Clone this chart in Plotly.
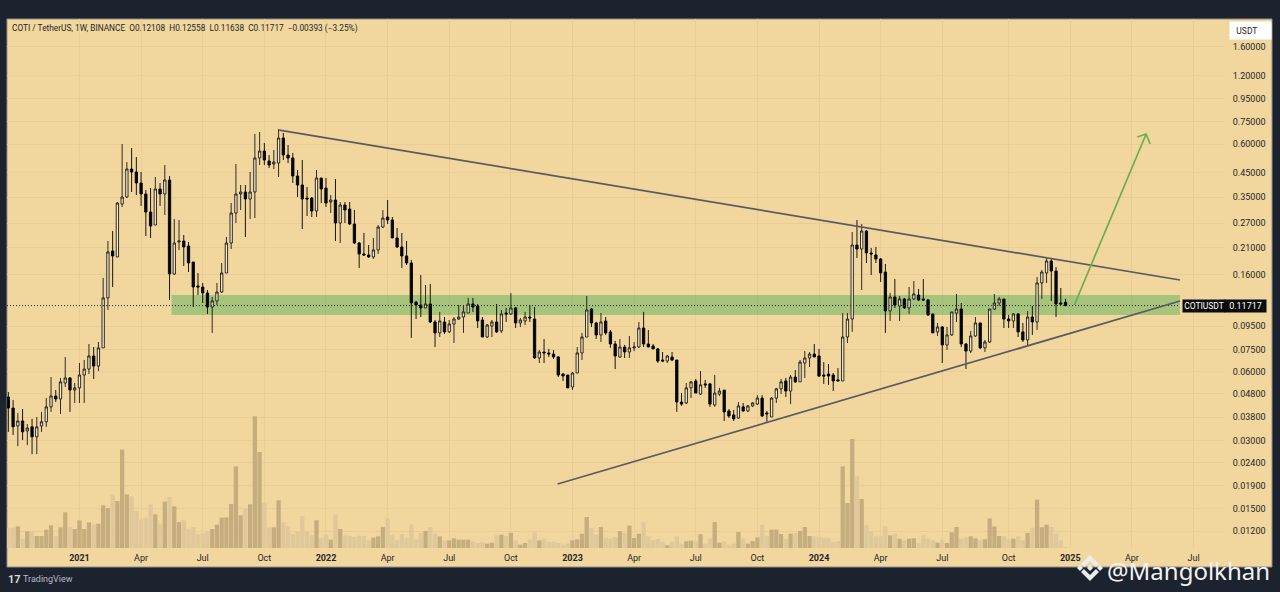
import pandas as pd
import plotly.graph_objects as go

# ── DATA ──────────────────────────────────────────────────────────────────────
opens = [.0465,.0416,.0347,.0365,.0330,.0344,.0311,.0347,.0362,.0421,.0470,.0456,.0536,.0564,.0499,.0510,.0581,.0617,.0704,.0636,
         .0764,.1266,.2035,.1915,.3272,.3512,.4660,.4521,.4045,.3620,.3017,.2646,.3808,.3620,.4170,.1613,.2229,.2251,.2140,.1821,
         .1429,.1414,.1331,.1155,.1228,.1344,.1629,.2206,.2987,.3620,.3694,.3441,.3694,.5209,.5590,.5053,.4902,.4952,.6376,.5369,
         .5209,.4342,.3964,.3476,.3476,.3048,.4255,.3846,.3339,.3407,.2700,.3239,.3111,.2673,.2206,.1975,.1955,.1915,.2056,.2593,
         .2869,.2783,.2321,.2119,.1935,.1802,.1215,.1179,.1144,.1191,.0993,.0889,.0993,.0898,.0973,.1023,.1044,.1087,.1191,.1167,
         .1013,.0853,.0953,.0993,.0907,.1087,.1077,.1144,.0983,.1003,.1044,.1023,.0690,.0733,.0726,.0718,.0697,.0587,.0581,.0515,
         .0593,.0726,.0853,.1132,.0983,.0871,.1003,.0898,.0795,.0697,.0771,.0733,.0764,.0771,.0934,.0795,.0779,.0756,.0676,.0669,
         .0697,.0676,.0442,.0438,.0510,.0547,.0479,.0531,.0531,.0429,.0479,.0499,.0404,.0388,.0376,.0421,.0404,.0425,.0433,.0460,
         .0396,.0380,.0460,.0505,.0547,.0494,.0569,.0542,.0656,.0690,.0718,.0704,.0581,.0587,.0581,.0553,.0547,.0853,.1023,.2162,
         .2076,.2491,.1995,.1955,.1877,.1645,.1110,.1278,.1167,.1253,.1144,.1253,.1304,.1253,.1240,.1077,.0898,.0944,.0787,.0871,
         .1087,.1132,.0795,.0740,.0862,.0983,.0764,.0811,.1132,.1203,.1253,.1023,.1003,.1077,.0898,.0828,.1044,.0993,.1473,.1629,
         .1839,.1662,.1203,.12108]
highs = [.0489,.0451,.0396,.0412,.0354,.0373,.0380,.0400,.0460,.0569,.0499,.0564,.0697,.0569,.0536,.0656,.0676,.0795,.0771,.0811,
         .1549,.2251,.2491,.3339,.6000,.5002,.5763,.5262,.4521,.3769,.3846,.4298,.4045,.4853,.4342,.2812,.2783,.2392,.2229,.1821,
         .1629,.1473,.1372,.1278,.1473,.1802,.2344,.3305,.4902,.3964,.3964,.4521,.6639,.6774,.6061,.5369,.5647,.6982,.6706,.5940,
         .5478,.4613,.5104,.3885,.3512,.4613,.4255,.4255,.3583,.4212,.3339,.3339,.3339,.3079,.2229,.2441,.2162,.2321,.2646,.3079,
         .3407,.2869,.2567,.2441,.2251,.1858,.1228,.1596,.1443,.1458,.1013,.1099,.1044,.1013,.1044,.1179,.1179,.1266,.1266,.1191,
         .1044,.0973,.1013,.1191,.1121,.1144,.1331,.1155,.1034,.1099,.1179,.1155,.0748,.0836,.0756,.0748,.0704,.0593,.0581,.0599,
         .0771,.0889,.1291,.1144,.0993,.1087,.1044,.0916,.0820,.0836,.0787,.0862,.0811,.0993,.1099,.0916,.0795,.0764,.0733,.0711,
         .0733,.0676,.0484,.0536,.0547,.0558,.0605,.0553,.0536,.0581,.0510,.0499,.0412,.0408,.0442,.0438,.0429,.0442,.0474,.0474,
         .0404,.0465,.0510,.0558,.0564,.0581,.0611,.0676,.0740,.0733,.0795,.0756,.0662,.0649,.0593,.0623,.1087,.1087,.2466,.2783,
         .2673,.2516,.2098,.2119,.1896,.1784,.1331,.1533,.1291,.1266,.1414,.1503,.1386,.1533,.1253,.1077,.0983,.0953,.0944,.1099,
         .1318,.1203,.0803,.0907,.1044,.0983,.0828,.1132,.1318,.1278,.1253,.1066,.1087,.1087,.0983,.1110,.1167,.1564,.1679,.1915,
         .1877,.1731,.1400,.12558]
lows = [.0327,.0317,.0283,.0301,.0286,.0261,.0261,.0327,.0344,.0400,.0442,.0392,.0515,.0400,.0438,.0438,.0438,.0587,.0558,.0605,
        .0764,.1121,.1414,.1915,.3174,.3476,.3694,.3583,.3207,.2368,.2321,.2646,.3207,.2927,.1240,.1596,.2056,.1749,.1645,.1155,
        .1304,.1203,.1077,.0889,.1179,.1331,.1629,.2076,.2700,.3079,.2344,.2812,.2840,.4853,.4853,.4708,.4660,.4298,.5104,.4952,
        .4045,.3512,.2541,.2898,.2869,.2869,.3305,.3174,.2987,.2251,.2206,.2700,.2646,.2184,.1714,.1935,.1896,.1877,.1975,.2567,
        .2673,.2321,.2098,.1714,.1766,.0845,.1023,.1044,.1144,.0983,.0771,.0853,.0880,.0889,.0803,.1013,.0889,.1087,.1099,.0934,
        .0853,.0845,.0853,.0889,.0889,.0993,.1066,.0934,.0944,.0963,.0993,.0683,.0656,.0656,.0697,.0683,.0569,.0547,.0510,.0499,
        .0593,.0676,.0853,.0944,.0836,.0811,.0871,.0764,.0617,.0690,.0690,.0690,.0740,.0764,.0771,.0771,.0756,.0656,.0662,.0656,
        .0669,.0400,.0425,.0433,.0460,.0484,.0474,.0510,.0421,.0421,.0470,.0365,.0376,.0365,.0373,.0400,.0400,.0421,.0429,.0380,
        .0362,.0380,.0438,.0479,.0465,.0433,.0536,.0542,.0564,.0630,.0697,.0569,.0531,.0526,.0494,.0547,.0547,.0803,.0898,.1896,
        .1372,.1802,.1596,.1802,.1488,.0889,.1003,.1144,.1003,.1132,.1077,.1240,.1228,.1228,.1055,.0889,.0862,.0656,.0748,.0862,
        .0993,.0771,.0617,.0726,.0853,.0756,.0733,.0803,.1121,.1167,.0934,.0934,.0934,.0853,.0811,.0779,.0871,.0916,.1253,.1473,
        .1228,.1044,.1179,.11638]
closes = [.0416,.0344,.0365,.0327,.0340,.0311,.0344,.0362,.0421,.0470,.0456,.0542,.0564,.0499,.0510,.0581,.0617,.0704,.0636,.0764,
          .1266,.2015,.1935,.3305,.3512,.4660,.4521,.4045,.3620,.3017,.2619,.3808,.3620,.4170,.1613,.2206,.2251,.2119,.1802,.1414,
          .1414,.1331,.1155,.1228,.1344,.1629,.2206,.2987,.3620,.3694,.3441,.3694,.5209,.5590,.5104,.4853,.5002,.6376,.5369,.5209,
          .4342,.3964,.3441,.3441,.3048,.4255,.3808,.3305,.3407,.2700,.3239,.3079,.2673,.2206,.1975,.1955,.1915,.2056,.2593,.2840,
          .2783,.2321,.2119,.1935,.1802,.1203,.1179,.1144,.1191,.0993,.0889,.1003,.0898,.0973,.1023,.1044,.1099,.1191,.1155,.1003,
          .0853,.0963,.0993,.0898,.1077,.1077,.1144,.0983,.1013,.1044,.1034,.0690,.0733,.0726,.0718,.0697,.0581,.0575,.0510,.0593,
          .0726,.0853,.1121,.0983,.0871,.0993,.0889,.0795,.0704,.0771,.0733,.0764,.0771,.0934,.0795,.0771,.0756,.0669,.0669,.0704,
          .0676,.0442,.0433,.0510,.0542,.0484,.0526,.0526,.0433,.0484,.0494,.0400,.0384,.0373,.0425,.0404,.0425,.0438,.0460,.0384,
          .0392,.0460,.0505,.0542,.0494,.0569,.0542,.0662,.0690,.0718,.0697,.0575,.0575,.0575,.0547,.0547,.0853,.1023,.2162,.2076,
          .2491,.1995,.1975,.1877,.1629,.1110,.1278,.1179,.1253,.1144,.1253,.1318,.1240,.1240,.1066,.0889,.0944,.0787,.0871,.1099,
          .1132,.0795,.0740,.0862,.0983,.0764,.0811,.1132,.1203,.1253,.1023,.1003,.1077,.0898,.0828,.1044,.0993,.1473,.1645,.1839,
          .1662,.1191,.1191,.11717]
volumes = [61,61,65,28,50,50,36,36,55,68,35,62,107,62,57,83,57,77,71,73,
           128,120,160,141,295,161,155,111,85,91,131,101,73,139,153,125,78,83,57,63,
           41,45,49,57,70,91,92,132,245,98,118,131,395,288,135,61,62,143,77,65,
           41,51,96,49,38,83,31,40,25,100,57,38,37,33,37,36,23,31,35,63,
           89,38,23,42,31,71,26,45,51,63,43,35,23,23,29,25,25,25,20,15,
           17,13,16,38,40,36,46,23,10,15,25,47,23,28,18,19,15,10,13,23,
           26,43,93,60,40,63,31,28,33,50,45,67,30,43,77,35,23,27,18,8,
           19,35,13,20,22,22,41,13,29,78,16,19,10,13,48,28,13,21,32,70,
           36,55,55,42,28,43,44,51,63,36,35,32,30,31,18,20,245,135,327,215,
           147,68,49,35,35,65,38,43,28,23,28,29,15,38,28,23,16,25,15,47,
           63,29,31,35,29,23,26,89,65,36,35,26,28,35,23,45,61,145,62,70,
           63,43,23,2]

price_ticks = [1.6,1.2,.95,.75,.6,.45,.35,.27,.21,.16,.095,.075,.06,.048,.038,.03,.024,.019,.015,.012]
price_labels = [f"{p:.5f}" for p in price_ticks]
time_ticks = ["2021-01-04","2021-04-05","2021-07-05","2021-10-04","2022-01-03","2022-04-04","2022-07-04","2022-10-03",
              "2023-01-02","2023-04-03","2023-07-03","2023-10-02","2024-01-01","2024-04-01","2024-07-01","2024-10-07",
              "2025-01-06","2025-04-07","2025-07-07"]
time_labels = ["<b>2021</b>","Apr","Jul","Oct","<b>2022</b>","Apr","Jul","Oct","<b>2023</b>","Apr","Jul","Oct",
               "<b>2024</b>","Apr","Jul","Oct","<b>2025</b>","Apr","Jul"]

zone_dates = ["2021-05-20","2025-06-17","2025-06-17","2021-05-20","2021-05-20"]
zone_prices = [.1304,.1304,.1066,.1066,.1304]
upper_dates = ["2021-10-26","2025-06-17"]
upper_prices = [.691,.1518]
lower_dates = ["2022-12-11","2025-06-17"]
lower_prices = [.0193,.1227]
arrow_dates = ["2025-01-12","2025-04-28"]
arrow_prices = [.1179,.6637]
head_dates = ["2025-04-15","2025-04-28","2025-05-04"]
head_prices = [.644,.6637,.600]
last_price = closes[-1]

dates = pd.date_range(end="2024-12-30", periods=len(closes), freq="7D")
vol_colors = ["#c5ad7e" if c >= o else "#dfc899" for o, c in zip(opens, closes)]

# ── LAYOUT HELPERS (pixels of the 1280x592 picture to paper) ──────────────────
LEFT, RIGHT, TOP, BOTTOM = 7, 1224, 19, 548
def px(x):
    return (x - LEFT) / (RIGHT - LEFT)
def py(y):
    return (BOTTOM - y) / (BOTTOM - TOP)
def path(points):
    return "M " + " L ".join(f"{px(x):.5f},{py(y):.5f}" for x, y in points) + " Z"

BG = "#f1d69e"
DARK = "#1c222e"
GRID = "#e9cd97"
TEXT = "#26262a"
FONT = "Roboto"

# ── FIGURE ────────────────────────────────────────────────────────────────────
fig = go.Figure()

fig.add_trace(go.Scatter(x=zone_dates, y=zone_prices, mode="lines", fill="toself",
                         fillcolor="rgba(76,175,80,0.45)", line_width=0, yaxis="y"))
fig.add_trace(go.Bar(x=dates, y=volumes, marker_color=vol_colors, marker_line_width=0, yaxis="y2"))
fig.add_trace(go.Candlestick(
    x=dates, open=opens, high=highs, low=lows, close=closes, yaxis="y3",
    increasing=dict(line=dict(color="#1a1a1a", width=0.9), fillcolor="#f7eacb"),
    decreasing=dict(line=dict(color="#000000", width=0.9), fillcolor="#000000"),
    whiskerwidth=0,
))
fig.add_trace(go.Scatter(x=["2020-09-19","2025-06-17"], y=[last_price, last_price], mode="lines", yaxis="y3",
                         line=dict(color="#2a2a2a", width=1, dash="1px,2px")))
for xs, ys, color in [(upper_dates, upper_prices, "#5a5a60"), (lower_dates, lower_prices, "#5a5a60"),
                      (arrow_dates, arrow_prices, "#6ab04f"), (head_dates, head_prices, "#6ab04f")]:
    fig.add_trace(go.Scatter(x=xs, y=ys, mode="lines", yaxis="y3", line=dict(color=color, width=1.7)))

y_range = [-1.9953, 0.3269]
fig.update_layout(
    width=1280, height=592,
    margin=dict(l=LEFT, r=1280 - RIGHT, t=TOP, b=592 - BOTTOM, pad=0),
    paper_bgcolor=DARK, plot_bgcolor=BG,
    showlegend=False, bargap=0.1, boxgap=0.3,
    font=dict(family=FONT, size=9, color=TEXT),
    xaxis=dict(type="date", range=["2020-09-19","2025-08-21"], rangeslider_visible=False,
               tickmode="array", tickvals=time_ticks, ticktext=time_labels, tickangle=0,
               gridcolor=GRID, gridwidth=1, showline=False, zeroline=False,
               ticks="outside", ticklen=1, tickcolor=BG, tickfont=dict(size=9, color=TEXT)),
    yaxis=dict(type="log", range=y_range, side="right", tickmode="array",
               tickvals=price_ticks, ticktext=price_labels, gridcolor=GRID, gridwidth=1,
               showline=False, zeroline=False, ticks="outside", ticklen=6, tickcolor=BG,
               tickfont=dict(size=9, color=TEXT)),
    yaxis2=dict(overlaying="y", range=[0, 1587], visible=False),
    yaxis3=dict(overlaying="y", type="log", range=y_range, visible=False),
)

# cream chart panel behind the plot, running under both axis strips
fig.add_shape(type="rect", xref="paper", yref="paper", x0=0, x1=px(1272), y0=py(567), y1=1,
              fillcolor=BG, line=dict(color="#8f8f84", width=1), layer="below")
# binance mark next to the watermark
for pts in [[(1090,555),(1099,564),(1096,567),(1090,561),(1084,567),(1081,564)],
            [(1090,581),(1099,572),(1096,569),(1090,575),(1084,569),(1081,572)],
            [(1077,568),(1080,565),(1083,568),(1080,571)],
            [(1103,568),(1100,565),(1097,568),(1100,571)],
            [(1090,565),(1093,568),(1090,571),(1087,568)]]:
    fig.add_shape(type="path", xref="paper", yref="paper", path=path(pts), fillcolor="#ececec", line_width=0)

def note(text, x, y, size=9, color=TEXT, family=FONT, anchor="left", **kw):
    fig.add_annotation(text=text, xref="paper", yref="paper", x=px(x), y=py(y), showarrow=False,
                       xanchor=anchor, yanchor="middle", font=dict(size=size, color=color, family=family), **kw)

note("COTI / TetherUS, 1W, BINANCE\u00a0\u00a0O0.12108\u00a0\u00a0H0.12558\u00a0\u00a0L0.11638\u00a0\u00a0C0.11717\u00a0\u00a0\u22120.00393 (\u22123.25%)",
     10, 29, size=8.3)
note("\u00a0\u00a0\u00a0USDT", 1229, 31, size=8.5, bgcolor="#ffffff", width=41, height=17, align="left", borderpad=0)
note("COTIUSDT", 1182, 306, size=8.5, color="#ffffff", bgcolor="#0b0b0b", width=42, height=12, align="center", borderpad=0)
note("0.11717", 1224, 306, size=9, color="#ffffff", bgcolor="#0b0b0b", width=41, height=12, align="center", borderpad=0)
note("<b>17</b>", 6, 579, size=11, color="#d8d8d8")
note("TradingView", 21, 579, size=9, color="#b8bcc4")
note("@Mangolkhan", 1105, 570, size=24, color="#f2f2f2", family="Noto Sans")

fig.write_html("out.html", config={"displayModeBar": False},
               post_script="document.body.style.margin='0';document.documentElement.style.overflow='hidden';")
